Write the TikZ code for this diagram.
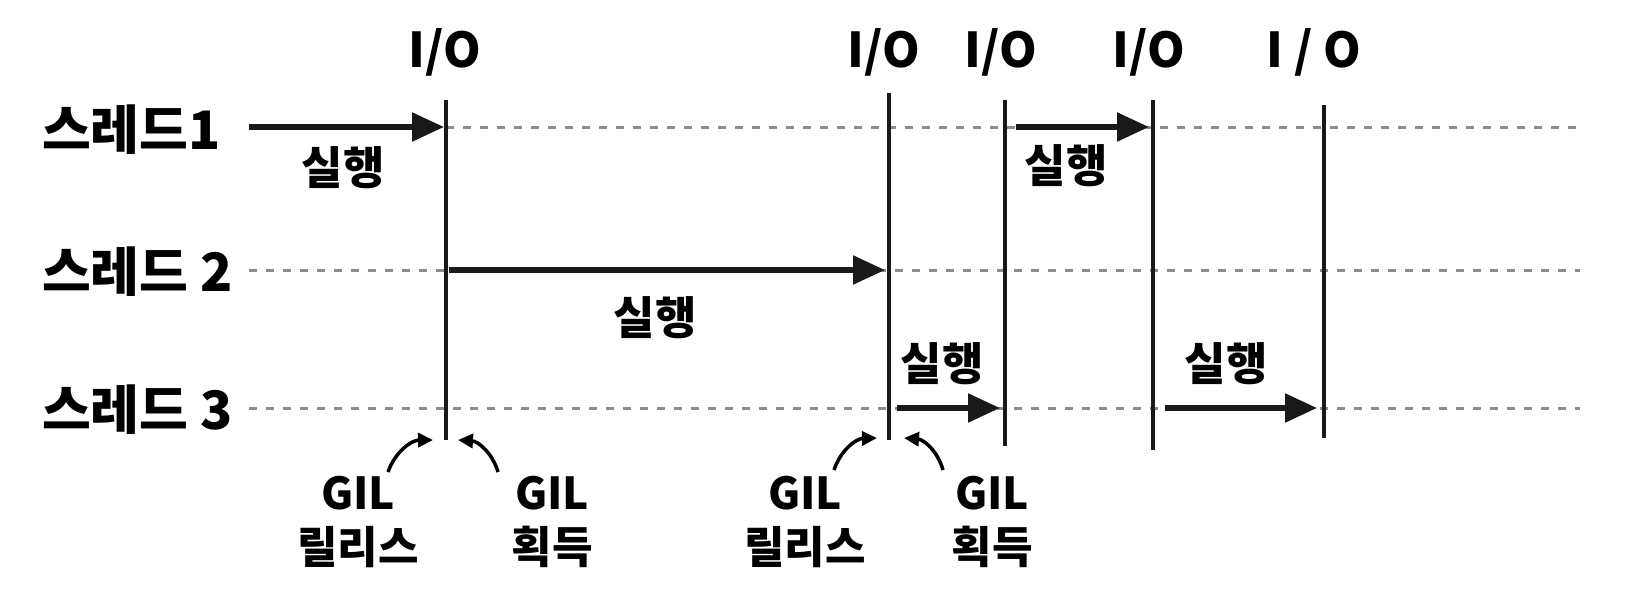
\documentclass[tikz,border=0pt]{standalone}
\usepackage{fontspec}
\setmainfont{Noto Sans CJK KR}
\usetikzlibrary{arrows.meta}
\begin{document}
\begin{tikzpicture}[x=1pt,y=-1pt,
  thr/.style={font=\fontsize{53}{55}\selectfont\bfseries, inner sep=0pt, anchor=west},
  io/.style={font=\fontsize{48}{50}\selectfont\bfseries, inner sep=0pt},
  run/.style={font=\fontsize{45}{47}\selectfont\bfseries, inner sep=0pt},
  gil/.style={font=\fontsize{44}{54}\selectfont\bfseries, inner sep=0pt, align=center},
  vline/.style={line width=3.5pt, draw=black!90},
  dots/.style={line width=3pt, draw=black!45, dash pattern=on 8pt off 9pt},
  runarrow/.style={line width=5.5pt, draw=black!90, fill=black!90, -{Triangle[length=32pt,width=28pt]}},
  curve/.style={line width=3.5pt, -{Triangle[length=15pt,width=14pt]}}
]
\useasboundingbox (0,0) rectangle (1632,602);

% thread labels
\node[thr] (t1) at (42,130) {스레드1};
\node[thr] (t2) at (42,272) {스레드 2};
\node[thr] (t3) at (42,410) {스레드 3};

% vertical I/O lines
\coordinate (v1t) at (446,100);  \coordinate (v1b) at (446,440);
\coordinate (v2t) at (889,93);   \coordinate (v2b) at (889,440);
\coordinate (v3t) at (1005,100); \coordinate (v3b) at (1005,446);
\coordinate (v4t) at (1153,100); \coordinate (v4b) at (1153,450);
\coordinate (v5t) at (1324,105); \coordinate (v5b) at (1324,438);

% I/O labels
\node[io] (io1) at (445,52) {I/O};
\node[io] (io2) at (884,52) {I/O};
\node[io] (io3) at (1001,52) {I/O};
\node[io] (io4) at (1149,52) {I/O};
\node[io] (io5) at (1314,52) {I / O};

% dashed thread lines
\coordinate (d1s) at (446,127);  \coordinate (d1e) at (1580,127);
\coordinate (d2s) at (249,270);  \coordinate (d2e) at (1580,270);
\coordinate (d3s) at (249,408);  \coordinate (d3e) at (1580,408);
\draw[dots] (d1s) -- (d1e);
\draw[dots] (d2s) -- (d2e);
\draw[dots] (d3s) -- (d3e);

\draw[vline] (v1t) -- (v1b);
\draw[vline] (v2t) -- (v2b);
\draw[vline] (v3t) -- (v3b);
\draw[vline] (v4t) -- (v4b);
\draw[vline] (v5t) -- (v5b);

% run arrows
\coordinate (a1s) at (249,127);  \coordinate (a1e) at (444,127);
\coordinate (a2s) at (1016,127); \coordinate (a2e) at (1149,127);
\coordinate (a3s) at (449,270);  \coordinate (a3e) at (885,270);
\coordinate (a4s) at (897,408);  \coordinate (a4e) at (1000,408);
\coordinate (a5s) at (1165,408); \coordinate (a5e) at (1317,408);
\draw[runarrow] (a1s) -- (a1e);
\draw[runarrow] (a2s) -- (a2e);
\draw[runarrow] (a3s) -- (a3e);
\draw[runarrow] (a4s) -- (a4e);
\draw[runarrow] (a5s) -- (a5e);

% run labels
\node[run] (r1) at (343,168) {실행};
\node[run] (r2) at (1066,166) {실행};
\node[run] (r3) at (655,318) {실행};
\node[run] (r4) at (942,364) {실행};
\node[run] (r5) at (1226,364) {실행};

% GIL labels
\node[gil] (g1) at (358,522) {GIL\\릴리스};
\node[gil] (g2) at (552,522) {GIL\\획득};
\node[gil] (g3) at (805,522) {GIL\\릴리스};
\node[gil] (g4) at (992,522) {GIL\\획득};

% curved arrows
\coordinate (c1s) at (388,472); \coordinate (c1e) at (433,440);
\coordinate (c2s) at (498,472); \coordinate (c2e) at (458,440);
\coordinate (c3s) at (834,470); \coordinate (c3e) at (877,438);
\coordinate (c4s) at (943,470); \coordinate (c4e) at (904,438);
\draw[curve] (c1s) to[bend left=35] (c1e);
\draw[curve] (c2s) to[bend right=35] (c2e);
\draw[curve] (c3s) to[bend left=35] (c3e);
\draw[curve] (c4s) to[bend right=35] (c4e);
\end{tikzpicture}
\end{document}
